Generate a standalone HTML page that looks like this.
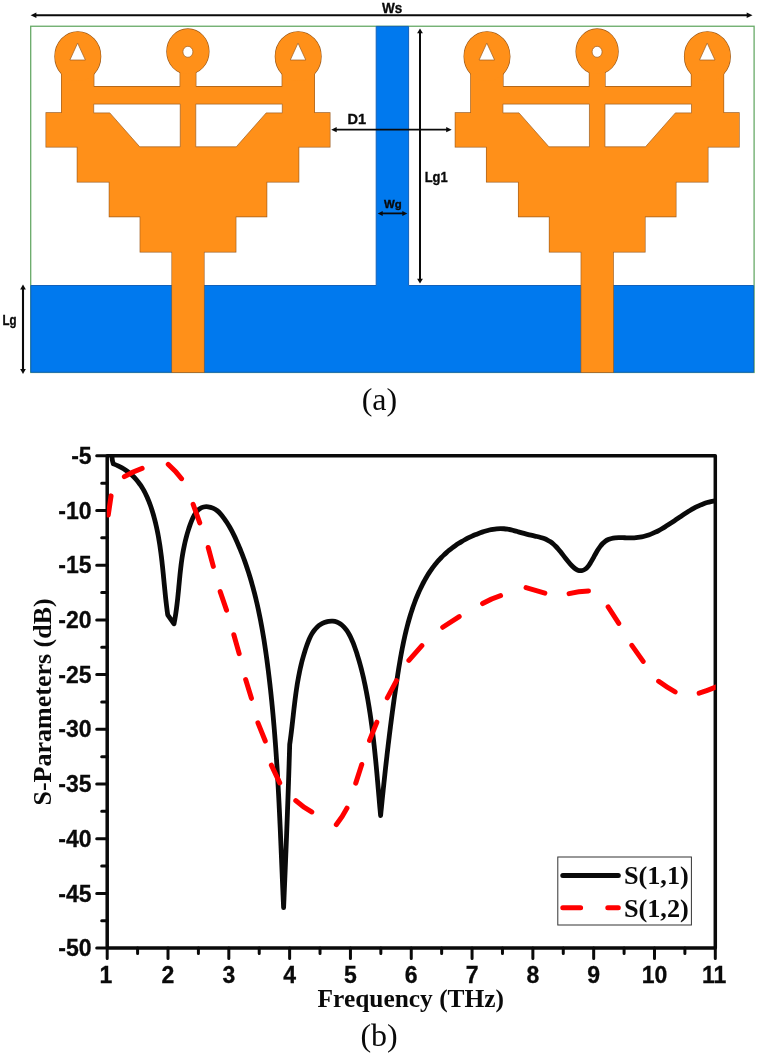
<!DOCTYPE html>
<html lang="en"><head><meta charset="utf-8"><title>Figure</title>
<style>html,body{margin:0;padding:0;background:#fff}svg{display:block}</style>
</head><body>
<svg width="762" height="1055" viewBox="0 0 762 1055">
<rect width="762" height="1055" fill="#fff"/>
<rect x="30.7" y="26.25" width="723.4" height="346.2" fill="#fff" stroke="#68AA68" stroke-width="1.3"/>
<path d="M30.9 285.5H376.2V26.4H408.6V285.5H753.6V372.2H30.9Z" fill="#0079EE" stroke="#1261BA" stroke-width="1"/>
<g fill="#FF9019" stroke="#9E5C1D" stroke-width="1.3" stroke-linejoin="miter">
<path d="M172.1 372.2 L172.1 251.8 L140.3 251.8 L140.3 216.6 L109.4 216.6 L109.4 181.8 L77.4 181.8 L77.4 146.8 L46.2 146.8 L46.2 112.9 L61.7 112.9 L61.7 62 L93.7 62 L93.7 86.7 L180.25 86.7 L180.25 60 L195.75 60 L195.75 86.7 L282.3 86.7 L282.3 62 L314.3 62 L314.3 112.9 L329.8 112.9 L329.8 146.8 L298.6 146.8 L298.6 181.8 L266.6 181.8 L266.6 216.6 L235.7 216.6 L235.7 251.8 L203.9 251.8 L203.9 372.2Z"/>
<ellipse cx="77.8" cy="56.4" rx="22.85" ry="24.6"/>
<ellipse cx="187.9" cy="51.5" rx="21" ry="22.5"/>
<ellipse cx="298.2" cy="56.4" rx="22.85" ry="24.6"/>
</g>
<g fill="#FF9019">
<path d="M172.1 372.2 L172.1 251.8 L140.3 251.8 L140.3 216.6 L109.4 216.6 L109.4 181.8 L77.4 181.8 L77.4 146.8 L46.2 146.8 L46.2 112.9 L61.7 112.9 L61.7 62 L93.7 62 L93.7 86.7 L180.25 86.7 L180.25 60 L195.75 60 L195.75 86.7 L282.3 86.7 L282.3 62 L314.3 62 L314.3 112.9 L329.8 112.9 L329.8 146.8 L298.6 146.8 L298.6 181.8 L266.6 181.8 L266.6 216.6 L235.7 216.6 L235.7 251.8 L203.9 251.8 L203.9 372.2Z"/>
<ellipse cx="77.8" cy="56.4" rx="22.85" ry="24.6"/>
<ellipse cx="187.9" cy="51.5" rx="21" ry="22.5"/>
<ellipse cx="298.2" cy="56.4" rx="22.85" ry="24.6"/>
</g>
<g fill="#fff" stroke="#9E5C1D" stroke-width="0.7">
<path d="M93.7 104.1 L180.25 104.1 L180.25 146.8 L139.7 146.8 L109.8 112.9 L93.7 112.9Z"/><path d="M282.3 104.1 L195.75 104.1 L195.75 146.8 L236.3 146.8 L266.2 112.9 L282.3 112.9Z"/>
<path d="M77.6 43.1 L85.4 60 L69.9 60Z"/>
<path d="M298 43.1 L305.8 60 L290.3 60Z"/>
<ellipse cx="187.9" cy="51.8" rx="5" ry="5.5"/>
</g>
<g fill="#FF9019" stroke="#9E5C1D" stroke-width="1.3" stroke-linejoin="miter">
<path d="M581.3 372.2 L581.3 251.8 L549.5 251.8 L549.5 216.6 L518.6 216.6 L518.6 181.8 L486.6 181.8 L486.6 146.8 L455.4 146.8 L455.4 112.9 L470.9 112.9 L470.9 62 L502.9 62 L502.9 86.7 L589.45 86.7 L589.45 60 L604.95 60 L604.95 86.7 L691.5 86.7 L691.5 62 L723.5 62 L723.5 112.9 L739 112.9 L739 146.8 L707.8 146.8 L707.8 181.8 L675.8 181.8 L675.8 216.6 L644.9 216.6 L644.9 251.8 L613.1 251.8 L613.1 372.2Z"/>
<ellipse cx="487" cy="56.4" rx="22.85" ry="24.6"/>
<ellipse cx="597.1" cy="51.5" rx="21" ry="22.5"/>
<ellipse cx="707.4" cy="56.4" rx="22.85" ry="24.6"/>
</g>
<g fill="#FF9019">
<path d="M581.3 372.2 L581.3 251.8 L549.5 251.8 L549.5 216.6 L518.6 216.6 L518.6 181.8 L486.6 181.8 L486.6 146.8 L455.4 146.8 L455.4 112.9 L470.9 112.9 L470.9 62 L502.9 62 L502.9 86.7 L589.45 86.7 L589.45 60 L604.95 60 L604.95 86.7 L691.5 86.7 L691.5 62 L723.5 62 L723.5 112.9 L739 112.9 L739 146.8 L707.8 146.8 L707.8 181.8 L675.8 181.8 L675.8 216.6 L644.9 216.6 L644.9 251.8 L613.1 251.8 L613.1 372.2Z"/>
<ellipse cx="487" cy="56.4" rx="22.85" ry="24.6"/>
<ellipse cx="597.1" cy="51.5" rx="21" ry="22.5"/>
<ellipse cx="707.4" cy="56.4" rx="22.85" ry="24.6"/>
</g>
<g fill="#fff" stroke="#9E5C1D" stroke-width="0.7">
<path d="M502.9 104.1 L589.45 104.1 L589.45 146.8 L548.9 146.8 L519 112.9 L502.9 112.9Z"/><path d="M691.5 104.1 L604.95 104.1 L604.95 146.8 L645.5 146.8 L675.4 112.9 L691.5 112.9Z"/>
<path d="M486.8 43.1 L494.6 60 L479.1 60Z"/>
<path d="M707.2 43.1 L715 60 L699.5 60Z"/>
<ellipse cx="597.1" cy="51.8" rx="5" ry="5.5"/>
</g>
<line x1="35.24" y1="15.3" x2="747.86" y2="15.3" stroke="#0a0a0a" stroke-width="2.1"/><path d="M752.5 15.3 L746.7 18.1 L746.7 12.5Z" fill="#0a0a0a"/><path d="M30.6 15.3 L36.4 18.1 L36.4 12.5Z" fill="#0a0a0a"/>
<line x1="23" y1="288.4" x2="23" y2="369.9" stroke="#0a0a0a" stroke-width="2.1"/><path d="M23 373.9 L20.15 368.9 L25.85 368.9Z" fill="#0a0a0a"/><path d="M23 284.4 L20.15 289.4 L25.85 289.4Z" fill="#0a0a0a"/>
<line x1="335.6" y1="129.7" x2="447.3" y2="129.7" stroke="#0a0a0a" stroke-width="1.8"/><path d="M451.7 129.7 L446.2 132.3 L446.2 127.1Z" fill="#0a0a0a"/><path d="M331.2 129.7 L336.7 132.3 L336.7 127.1Z" fill="#0a0a0a"/>
<line x1="420" y1="32.24" x2="420" y2="279.66" stroke="#0a0a0a" stroke-width="2"/><path d="M420 283.5 L417.1 278.7 L422.9 278.7Z" fill="#0a0a0a"/><path d="M420 28.4 L417.1 33.2 L422.9 33.2Z" fill="#0a0a0a"/>
<line x1="381.7" y1="213.4" x2="403.3" y2="213.4" stroke="#0a0a0a" stroke-width="1.8"/><path d="M407.3 213.4 L402.3 215.9 L402.3 210.9Z" fill="#0a0a0a"/><path d="M377.7 213.4 L382.7 215.9 L382.7 210.9Z" fill="#0a0a0a"/>
<g font-family="'Liberation Sans',Arial,sans-serif" font-weight="bold" fill="#0a0a0a" stroke="#0a0a0a" stroke-width="0.35">
<text x="382" y="13" font-size="14.8" textLength="20.3" lengthAdjust="spacingAndGlyphs">Ws</text>
<text x="347.4" y="124.4" font-size="14.94" textLength="18.6" lengthAdjust="spacingAndGlyphs">D1</text>
<text x="424.7" y="182.3" font-size="14.94" textLength="23" lengthAdjust="spacingAndGlyphs">Lg1</text>
<text x="383.9" y="207.5" font-size="11.03" textLength="17.7" lengthAdjust="spacingAndGlyphs">Wg</text>
<text x="2.4" y="324.9" font-size="14.66" textLength="14.1" lengthAdjust="spacingAndGlyphs">Lg</text>
</g>
<g font-family="'Liberation Serif','Times New Roman',serif" font-size="32" fill="#0a0a0a" text-anchor="middle">
<text x="379.4" y="410.3">(a)</text>
<text x="379.1" y="1046.2">(b)</text>
</g>
<g stroke="#0a0a0a" stroke-width="3.5" stroke-linecap="round" fill="none">
<path d="M107.2 455.8H715.3V948.1H107.2Z" stroke-linejoin="round"/>
<path d="M107.2 455.8H96.7M107.2 483.15H101.7M107.2 510.5H96.7M107.2 537.85H101.7M107.2 565.2H96.7M107.2 592.55H101.7M107.2 619.9H96.7M107.2 647.25H101.7M107.2 674.6H96.7M107.2 701.95H101.7M107.2 729.3H96.7M107.2 756.65H101.7M107.2 784H96.7M107.2 811.35H101.7M107.2 838.7H96.7M107.2 866.05H101.7M107.2 893.4H96.7M107.2 920.75H101.7M107.2 948.1H96.7M107.2 948.1V958.6M137.6 948.1V953.6M168.01 948.1V958.6M198.41 948.1V953.6M228.82 948.1V958.6M259.22 948.1V953.6M289.63 948.1V958.6M320.03 948.1V953.6M350.44 948.1V958.6M380.84 948.1V953.6M411.25 948.1V958.6M441.65 948.1V953.6M472.06 948.1V958.6M502.46 948.1V953.6M532.87 948.1V958.6M563.27 948.1V953.6M593.68 948.1V958.6M624.09 948.1V953.6M654.49 948.1V958.6M684.89 948.1V953.6M715.3 948.1V958.6" stroke-width="3"/>
</g>
<g font-family="'Liberation Sans',Arial,sans-serif" font-weight="bold" font-size="23" stroke="#0a0a0a" stroke-width="0.3" fill="#0a0a0a">
<text x="91.6" y="463.9" text-anchor="end">-5</text>
<text x="91.6" y="518.6" text-anchor="end">-10</text>
<text x="91.6" y="573.3" text-anchor="end">-15</text>
<text x="91.6" y="628" text-anchor="end">-20</text>
<text x="91.6" y="682.7" text-anchor="end">-25</text>
<text x="91.6" y="737.4" text-anchor="end">-30</text>
<text x="91.6" y="792.1" text-anchor="end">-35</text>
<text x="91.6" y="846.8" text-anchor="end">-40</text>
<text x="91.6" y="901.5" text-anchor="end">-45</text>
<text x="91.6" y="956.2" text-anchor="end">-50</text>
<text x="106" y="982.7" text-anchor="middle">1</text>
<text x="168.01" y="982.7" text-anchor="middle">2</text>
<text x="228.82" y="982.7" text-anchor="middle">3</text>
<text x="289.63" y="982.7" text-anchor="middle">4</text>
<text x="350.44" y="982.7" text-anchor="middle">5</text>
<text x="411.25" y="982.7" text-anchor="middle">6</text>
<text x="472.06" y="982.7" text-anchor="middle">7</text>
<text x="532.87" y="982.7" text-anchor="middle">8</text>
<text x="593.68" y="982.7" text-anchor="middle">9</text>
<text x="654.49" y="982.7" text-anchor="middle">10</text>
<text x="714.1" y="982.7" text-anchor="middle">11</text>
</g>
<clipPath id="plot"><rect x="106.8" y="455.8" width="608.9" height="492.3"/></clipPath>
<g clip-path="url(#plot)">
<path d="M112 456.5C112.05 457.08 112.08 458.78 112.3 460C112.52 461.22 113.13 463.17 113.3 463.8C114 464.1 116.15 464.97 117.53 465.62C118.91 466.27 120.26 466.96 121.57 467.7C122.88 468.44 124.16 469.22 125.39 470.05C126.63 470.87 127.83 471.74 128.99 472.65C130.14 473.56 131.26 474.51 132.33 475.5C133.4 476.49 134.43 477.52 135.41 478.59C136.39 479.66 137.32 480.77 138.21 481.92C139.1 483.06 139.95 484.24 140.76 485.44C141.57 486.65 142.34 487.89 143.07 489.15C143.81 490.41 144.5 491.7 145.17 493.01C145.83 494.32 146.46 495.66 147.06 497.01C147.67 498.36 148.24 499.73 148.79 501.11C149.33 502.49 149.85 503.88 150.35 505.28C150.85 506.69 151.32 508.1 151.78 509.52C152.23 510.94 152.67 512.36 153.09 513.79C153.51 515.21 153.91 516.64 154.29 518.08C154.68 519.51 155.04 520.95 155.4 522.39C155.75 523.83 156.08 525.27 156.41 526.71C156.73 528.16 157.04 529.61 157.33 531.06C157.63 532.51 157.91 533.96 158.18 535.42C158.45 536.88 158.71 538.33 158.95 539.79C159.2 541.25 159.43 542.72 159.66 544.18C159.89 545.65 160.1 547.11 160.31 548.58C160.52 550.05 160.72 551.52 160.91 552.99C161.1 554.46 161.29 555.93 161.47 557.4C161.64 558.87 161.81 560.35 161.98 561.82C162.15 563.3 162.31 564.77 162.47 566.25C162.62 567.72 162.78 569.2 162.93 570.68C163.08 572.15 163.22 573.63 163.37 575.11C163.52 576.59 163.66 578.06 163.8 579.54C163.95 581.02 164.09 582.49 164.23 583.97C164.38 585.44 164.52 586.92 164.66 588.39C164.81 589.87 164.96 591.34 165.11 592.82C165.26 594.29 165.41 595.76 165.56 597.23C165.72 598.7 165.88 600.17 166.05 601.64C166.21 603.11 166.38 604.57 166.56 606.04C166.73 607.5 166.92 608.96 167.11 610.42C167.3 611.89 167.6 614.07 167.7 614.8C168.75 616.3 172.95 622.3 174 623.8C174.15 622.96 174.64 620.44 174.93 618.77C175.22 617.1 175.49 615.43 175.74 613.77C175.99 612.11 176.23 610.45 176.45 608.8C176.67 607.15 176.87 605.5 177.07 603.86C177.27 602.21 177.45 600.58 177.63 598.94C177.8 597.3 177.97 595.67 178.13 594.04C178.3 592.41 178.45 590.78 178.61 589.16C178.76 587.53 178.91 585.91 179.07 584.28C179.22 582.66 179.37 581.04 179.53 579.42C179.69 577.8 179.85 576.19 180.01 574.57C180.18 572.95 180.35 571.33 180.53 569.72C180.72 568.1 180.91 566.48 181.11 564.86C181.31 563.24 181.53 561.63 181.76 560.01C181.99 558.39 182.23 556.76 182.5 555.14C182.76 553.52 183.04 551.89 183.35 550.27C183.65 548.64 183.97 547.01 184.32 545.38C184.67 543.75 185.04 542.11 185.44 540.47C185.84 538.83 186.26 537.19 186.71 535.55C187.17 533.9 187.65 532.25 188.17 530.6C188.69 528.94 189.23 527.28 189.82 525.62C190.41 523.96 191.02 522.26 191.7 520.65C192.37 519.04 193.09 517.41 193.89 515.95C194.69 514.49 195.55 513.07 196.52 511.87C197.49 510.68 198.53 509.58 199.71 508.77C200.89 507.95 202.17 507.31 203.57 506.98C204.98 506.65 206.59 506.61 208.15 506.8C209.71 507 211.43 507.48 212.95 508.14C214.48 508.8 215.97 509.73 217.29 510.76C218.62 511.79 219.78 513.05 220.9 514.31C222.03 515.57 223.04 516.97 224.03 518.34C225.03 519.71 225.97 521.11 226.88 522.52C227.79 523.94 228.66 525.37 229.5 526.81C230.34 528.26 231.14 529.72 231.92 531.19C232.7 532.66 233.44 534.14 234.17 535.64C234.89 537.13 235.59 538.63 236.28 540.14C236.96 541.65 237.62 543.17 238.27 544.69C238.93 546.21 239.56 547.74 240.19 549.27C240.81 550.8 241.42 552.34 242.02 553.88C242.62 555.42 243.2 556.96 243.77 558.51C244.34 560.06 244.9 561.61 245.45 563.17C246 564.73 246.53 566.29 247.06 567.85C247.58 569.42 248.09 570.98 248.59 572.56C249.09 574.13 249.58 575.7 250.06 577.28C250.54 578.86 251 580.44 251.46 582.03C251.91 583.62 252.36 585.2 252.8 586.8C253.23 588.39 253.66 589.98 254.07 591.58C254.49 593.18 254.89 594.78 255.29 596.39C255.69 597.99 256.07 599.6 256.45 601.2C256.83 602.81 257.2 604.43 257.56 606.04C257.92 607.65 258.27 609.27 258.62 610.89C258.96 612.51 259.3 614.13 259.62 615.75C259.95 617.37 260.27 619 260.59 620.63C260.9 622.25 261.21 623.88 261.5 625.51C261.8 627.14 262.09 628.77 262.38 630.41C262.67 632.04 262.94 633.68 263.22 635.31C263.49 636.95 263.76 638.59 264.02 640.22C264.28 641.86 264.53 643.5 264.78 645.14C265.03 646.79 265.28 648.43 265.52 650.07C265.76 651.71 265.99 653.36 266.22 655C266.45 656.64 266.68 658.29 266.9 659.93C267.12 661.58 267.34 663.22 267.55 664.87C267.76 666.52 267.97 668.16 268.18 669.81C268.39 671.45 268.59 673.1 268.79 674.75C268.99 676.39 269.19 678.04 269.38 679.69C269.57 681.33 269.76 682.98 269.95 684.63C270.13 686.27 270.32 687.92 270.5 689.57C270.68 691.21 270.85 692.86 271.03 694.51C271.2 696.16 271.37 697.81 271.54 699.45C271.71 701.1 271.87 702.75 272.04 704.4C272.2 706.05 272.36 707.69 272.51 709.34C272.67 710.99 272.83 712.64 272.98 714.29C273.13 715.94 273.28 717.59 273.42 719.23C273.57 720.88 273.71 722.53 273.85 724.18C273.99 725.83 274.13 727.48 274.27 729.13C274.4 730.78 274.54 732.43 274.67 734.08C274.8 735.73 274.93 737.38 275.05 739.03C275.18 740.68 275.3 742.33 275.43 743.98C275.55 745.63 275.67 747.28 275.79 748.93C275.9 750.58 276.02 752.23 276.13 753.88C276.25 755.54 276.36 757.19 276.47 758.84C276.58 760.49 276.69 762.14 276.79 763.79C276.9 765.44 277 767.09 277.11 768.75C277.21 770.4 277.31 772.05 277.41 773.7C277.51 775.35 277.6 777 277.7 778.66C277.8 780.31 277.89 781.96 277.98 783.61C278.08 785.27 278.17 786.92 278.26 788.57C278.35 790.22 278.44 791.88 278.53 793.53C278.61 795.18 278.7 796.83 278.79 798.49C278.87 800.14 278.95 801.79 279.04 803.45C279.12 805.1 279.2 806.75 279.28 808.4C279.36 810.06 279.44 811.71 279.52 813.36C279.6 815.02 279.68 816.67 279.76 818.33C279.83 819.98 279.91 821.63 279.98 823.29C280.06 824.94 280.13 826.59 280.21 828.25C280.28 829.9 280.36 831.56 280.43 833.21C280.5 834.87 280.57 836.52 280.64 838.17C280.72 839.83 280.79 841.48 280.86 843.14C280.93 844.79 281 846.45 281.07 848.1C281.14 849.76 281.21 851.41 281.28 853.07C281.35 854.72 281.42 856.38 281.49 858.03C281.55 859.69 281.62 861.34 281.69 863C281.76 864.65 281.83 866.31 281.9 867.96C281.97 869.62 282.04 871.27 282.11 872.93C282.17 874.58 282.24 876.24 282.31 877.89C282.38 879.55 282.45 881.2 282.52 882.86C282.59 884.52 282.66 886.17 282.73 887.83C282.8 889.48 282.87 891.14 282.94 892.8C283.01 894.45 283.09 896.11 283.16 897.76C283.23 899.42 283.3 901.08 283.38 902.73C283.45 904.39 283.56 906.87 283.6 907.7C283.67 906.1 283.87 901.3 284.01 898.1C284.14 894.89 284.28 891.69 284.41 888.49C284.55 885.29 284.68 882.09 284.81 878.89C284.94 875.69 285.08 872.48 285.21 869.28C285.34 866.08 285.47 862.88 285.6 859.68C285.73 856.48 285.86 853.27 285.99 850.07C286.12 846.87 286.24 843.67 286.37 840.47C286.5 837.27 286.62 834.06 286.74 830.86C286.87 827.66 286.99 824.46 287.11 821.26C287.23 818.05 287.35 814.85 287.47 811.65C287.59 808.45 287.71 805.25 287.82 802.04C287.94 798.84 288.05 795.64 288.16 792.44C288.27 789.24 288.38 786.03 288.49 782.83C288.6 779.63 288.71 776.43 288.81 773.22C288.92 770.02 289.02 766.82 289.12 763.62C289.22 760.41 289.32 757.21 289.42 754.01C289.51 750.81 289.65 746 289.7 744.4C289.81 743.64 290.13 741.37 290.33 739.86C290.53 738.36 290.73 736.85 290.92 735.35C291.11 733.85 291.29 732.35 291.47 730.85C291.65 729.36 291.83 727.87 292 726.37C292.17 724.88 292.34 723.4 292.51 721.91C292.67 720.43 292.84 718.94 293.01 717.46C293.17 715.98 293.34 714.51 293.5 713.03C293.67 711.55 293.84 710.08 294.01 708.6C294.18 707.13 294.35 705.66 294.52 704.19C294.7 702.72 294.88 701.25 295.06 699.78C295.25 698.32 295.44 696.85 295.63 695.38C295.83 693.92 296.03 692.45 296.24 690.99C296.45 689.52 296.67 688.06 296.9 686.6C297.12 685.13 297.36 683.67 297.61 682.21C297.86 680.75 298.11 679.28 298.38 677.82C298.65 676.36 298.93 674.89 299.23 673.43C299.52 671.97 299.83 670.5 300.15 669.04C300.47 667.57 300.81 666.11 301.16 664.64C301.52 663.17 301.88 661.71 302.27 660.24C302.66 658.77 303.06 657.3 303.48 655.83C303.9 654.36 304.34 652.88 304.8 651.41C305.26 649.93 305.74 648.45 306.25 646.98C306.75 645.5 307.27 644.01 307.83 642.56C308.39 641.11 308.98 639.65 309.62 638.25C310.27 636.85 310.95 635.47 311.7 634.17C312.46 632.87 313.26 631.61 314.15 630.45C315.04 629.28 315.99 628.18 317.05 627.19C318.1 626.21 319.24 625.3 320.46 624.53C321.68 623.76 323.01 623.09 324.36 622.57C325.7 622.06 327.12 621.66 328.52 621.43C329.92 621.21 331.36 621.12 332.74 621.23C334.12 621.33 335.51 621.59 336.8 622.05C338.1 622.52 339.34 623.19 340.51 624C341.68 624.8 342.78 625.8 343.81 626.88C344.85 627.96 345.81 629.19 346.71 630.45C347.61 631.72 348.45 633.09 349.22 634.46C349.99 635.82 350.68 637.24 351.33 638.65C351.98 640.07 352.57 641.5 353.14 642.94C353.7 644.37 354.22 645.82 354.74 647.27C355.25 648.71 355.75 650.15 356.23 651.6C356.71 653.04 357.17 654.48 357.62 655.92C358.07 657.36 358.51 658.81 358.93 660.25C359.35 661.69 359.76 663.13 360.16 664.57C360.55 666.02 360.93 667.46 361.31 668.9C361.68 670.35 362.04 671.79 362.39 673.23C362.74 674.68 363.08 676.13 363.41 677.57C363.74 679.02 364.06 680.47 364.37 681.92C364.69 683.37 364.99 684.82 365.29 686.28C365.58 687.73 365.87 689.19 366.15 690.65C366.44 692.11 366.71 693.57 366.98 695.03C367.25 696.5 367.52 697.96 367.77 699.43C368.03 700.9 368.28 702.37 368.53 703.84C368.77 705.31 369.01 706.78 369.25 708.26C369.48 709.73 369.71 711.21 369.93 712.69C370.16 714.17 370.38 715.65 370.59 717.13C370.8 718.61 371.01 720.1 371.22 721.58C371.42 723.07 371.62 724.55 371.82 726.04C372.01 727.53 372.2 729.01 372.39 730.5C372.58 731.99 372.76 733.48 372.94 734.98C373.12 736.47 373.29 737.96 373.47 739.45C373.64 740.95 373.81 742.44 373.97 743.93C374.14 745.43 374.3 746.92 374.46 748.42C374.62 749.92 374.77 751.41 374.93 752.91C375.08 754.41 375.23 755.9 375.38 757.4C375.53 758.9 375.68 760.39 375.82 761.89C375.96 763.39 376.11 764.89 376.25 766.38C376.39 767.88 376.53 769.38 376.66 770.88C376.8 772.37 376.94 773.87 377.07 775.37C377.2 776.87 377.34 778.36 377.47 779.86C377.6 781.35 377.73 782.85 377.86 784.34C377.99 785.84 378.12 787.33 378.25 788.83C378.38 790.32 378.51 791.81 378.64 793.31C378.77 794.8 378.9 796.29 379.03 797.78C379.16 799.27 379.28 800.76 379.41 802.25C379.54 803.73 379.67 805.22 379.8 806.7C379.94 808.19 380.07 809.67 380.2 811.16C380.33 812.64 380.53 814.86 380.6 815.6C380.66 814.98 380.85 813.12 380.97 811.88C381.09 810.65 381.22 809.41 381.34 808.17C381.47 806.93 381.59 805.69 381.72 804.45C381.84 803.22 381.97 801.98 382.09 800.74C382.22 799.5 382.35 798.26 382.47 797.03C382.6 795.79 382.73 794.55 382.86 793.31C382.99 792.08 383.12 790.84 383.24 789.6C383.37 788.36 383.5 787.13 383.63 785.89C383.77 784.65 383.9 783.41 384.03 782.18C384.16 780.94 384.29 779.7 384.43 778.46C384.56 777.23 384.69 775.99 384.83 774.75C384.96 773.52 385.1 772.28 385.23 771.04C385.37 769.81 385.5 768.57 385.64 767.33C385.78 766.1 385.92 764.86 386.05 763.63C386.19 762.39 386.33 761.15 386.47 759.92C386.61 758.68 386.75 757.45 386.9 756.21C387.04 754.97 387.18 753.74 387.32 752.5C387.47 751.27 387.61 750.03 387.76 748.8C387.9 747.56 388.05 746.33 388.19 745.09C388.34 743.86 388.49 742.62 388.64 741.39C388.79 740.15 388.94 738.92 389.09 737.68C389.24 736.45 389.39 735.21 389.54 733.98C389.69 732.74 389.85 731.51 390 730.28C390.16 729.04 390.31 727.81 390.47 726.57C390.62 725.34 390.78 724.11 390.94 722.87C391.1 721.64 391.26 720.41 391.42 719.17C391.58 717.94 391.74 716.71 391.9 715.47C392.07 714.24 392.23 713.01 392.4 711.77C392.56 710.54 392.73 709.31 392.89 708.08C393.06 706.84 393.23 705.61 393.4 704.38C393.57 703.15 393.74 701.92 393.91 700.68C394.09 699.45 394.26 698.22 394.43 696.99C394.61 695.76 394.78 694.53 394.96 693.3C395.14 692.06 395.32 690.83 395.5 689.6C395.68 688.37 395.86 687.14 396.04 685.91C396.22 684.68 396.41 683.45 396.59 682.22C396.78 680.99 396.96 679.76 397.15 678.53C397.34 677.3 397.53 676.07 397.72 674.84C397.91 673.61 398.1 672.38 398.3 671.15C398.49 669.92 398.69 668.7 398.89 667.47C399.09 666.24 399.29 665.01 399.49 663.79C399.7 662.56 399.9 661.33 400.11 660.11C400.33 658.88 400.54 657.66 400.76 656.43C400.98 655.21 401.2 653.98 401.42 652.76C401.65 651.54 401.88 650.32 402.12 649.09C402.35 647.87 402.59 646.65 402.84 645.44C403.08 644.22 403.33 643 403.59 641.78C403.85 640.57 404.11 639.35 404.38 638.14C404.64 636.92 404.92 635.71 405.2 634.5C405.48 633.29 405.77 632.08 406.06 630.87C406.36 629.66 406.66 628.46 406.97 627.25C407.28 626.05 407.59 624.85 407.92 623.64C408.24 622.44 408.57 621.24 408.92 620.05C409.26 618.85 409.61 617.65 409.96 616.46C410.32 615.27 410.69 614.07 411.06 612.89C411.44 611.7 411.83 610.51 412.22 609.32C412.62 608.14 413.02 606.95 413.44 605.77C413.85 604.59 414.28 603.42 414.71 602.24C415.15 601.07 415.6 599.9 416.06 598.74C416.52 597.57 416.99 596.41 417.47 595.26C417.95 594.1 418.45 592.95 418.95 591.81C419.46 590.67 419.98 589.53 420.51 588.41C421.05 587.28 421.59 586.16 422.16 585.05C422.72 583.94 423.29 582.83 423.88 581.74C424.47 580.64 425.07 579.56 425.69 578.48C426.31 577.41 426.94 576.34 427.59 575.29C428.24 574.24 428.91 573.19 429.59 572.16C430.27 571.14 430.97 570.12 431.68 569.11C432.4 568.11 433.13 567.11 433.88 566.14C434.63 565.16 435.39 564.19 436.18 563.24C436.96 562.3 437.77 561.36 438.59 560.44C439.41 559.52 440.25 558.62 441.11 557.73C441.97 556.85 442.84 555.97 443.74 555.12C444.63 554.27 445.54 553.43 446.47 552.61C447.4 551.79 448.35 550.98 449.31 550.2C450.27 549.41 451.25 548.64 452.24 547.89C453.23 547.14 454.24 546.4 455.26 545.69C456.28 544.97 457.32 544.27 458.37 543.59C459.42 542.91 460.48 542.25 461.56 541.61C462.63 540.97 463.72 540.34 464.82 539.74C465.92 539.13 467.04 538.55 468.16 537.98C469.28 537.41 470.42 536.86 471.56 536.34C472.71 535.81 473.86 535.3 475.03 534.81C476.19 534.32 477.36 533.85 478.55 533.41C479.73 532.96 480.92 532.53 482.12 532.12C483.32 531.72 484.53 531.34 485.73 530.99C486.94 530.64 488.16 530.31 489.38 530.03C490.59 529.75 491.82 529.5 493.04 529.29C494.25 529.09 495.48 528.92 496.69 528.81C497.91 528.7 499.13 528.63 500.34 528.62C501.55 528.61 502.76 528.66 503.96 528.76C505.16 528.86 506.35 529.02 507.55 529.21C508.74 529.41 509.93 529.66 511.13 529.93C512.32 530.19 513.51 530.5 514.71 530.82C515.9 531.13 517.1 531.48 518.31 531.82C519.51 532.16 520.72 532.52 521.94 532.86C523.16 533.21 524.39 533.56 525.63 533.88C526.87 534.2 528.12 534.5 529.38 534.79C530.64 535.08 531.91 535.35 533.17 535.63C534.43 535.91 535.69 536.18 536.93 536.48C538.17 536.78 539.41 537.08 540.61 537.43C541.81 537.78 543 538.15 544.14 538.58C545.28 539.02 546.39 539.48 547.45 540.03C548.52 540.57 549.53 541.17 550.51 541.84C551.48 542.5 552.4 543.24 553.3 544.02C554.21 544.79 555.06 545.63 555.91 546.5C556.75 547.36 557.57 548.28 558.37 549.22C559.18 550.16 559.96 551.13 560.75 552.12C561.54 553.11 562.32 554.12 563.11 555.14C563.89 556.16 564.68 557.19 565.49 558.22C566.29 559.25 567.11 560.28 567.95 561.3C568.79 562.31 569.66 563.34 570.55 564.31C571.45 565.28 572.37 566.27 573.32 567.1C574.27 567.93 575.24 568.73 576.23 569.31C577.22 569.89 578.23 570.37 579.24 570.58C580.26 570.78 581.32 570.77 582.32 570.53C583.33 570.29 584.36 569.77 585.28 569.14C586.19 568.51 587.03 567.64 587.82 566.72C588.61 565.8 589.31 564.7 590.01 563.61C590.72 562.52 591.38 561.34 592.05 560.17C592.72 559 593.37 557.78 594.04 556.59C594.7 555.39 595.36 554.18 596.03 553C596.71 551.83 597.39 550.65 598.1 549.54C598.81 548.43 599.53 547.34 600.29 546.34C601.06 545.33 601.84 544.37 602.68 543.51C603.52 542.66 604.39 541.87 605.33 541.2C606.26 540.54 607.25 539.98 608.29 539.53C609.33 539.07 610.43 538.73 611.56 538.46C612.69 538.19 613.87 538.02 615.07 537.89C616.28 537.75 617.52 537.7 618.78 537.67C620.03 537.63 621.32 537.66 622.6 537.68C623.89 537.7 625.2 537.76 626.5 537.79C627.8 537.83 629.11 537.88 630.4 537.88C631.7 537.88 632.99 537.87 634.25 537.8C635.52 537.74 636.77 537.62 638 537.47C639.23 537.31 640.44 537.11 641.64 536.87C642.84 536.62 644.02 536.34 645.19 536.01C646.36 535.69 647.51 535.33 648.66 534.94C649.8 534.54 650.93 534.11 652.05 533.65C653.17 533.19 654.28 532.69 655.38 532.17C656.48 531.65 657.57 531.1 658.66 530.52C659.74 529.95 660.81 529.35 661.88 528.73C662.95 528.12 664.02 527.48 665.08 526.83C666.14 526.18 667.19 525.51 668.24 524.83C669.29 524.15 670.34 523.46 671.39 522.76C672.43 522.06 673.48 521.35 674.52 520.65C675.57 519.94 676.61 519.22 677.66 518.51C678.7 517.8 679.75 517.09 680.8 516.39C681.84 515.68 682.9 514.98 683.95 514.29C685.01 513.6 686.07 512.92 687.13 512.25C688.2 511.58 689.27 510.93 690.34 510.29C691.42 509.66 692.51 509.03 693.6 508.44C694.69 507.84 695.79 507.26 696.91 506.71C698.02 506.16 699.14 505.63 700.27 505.14C701.4 504.65 702.55 504.18 703.7 503.75C704.86 503.32 706.03 502.92 707.21 502.56C708.4 502.2 709.6 501.88 710.81 501.6C712.02 501.33 713.88 501.02 714.5 500.9" fill="none" stroke="#0a0a0a" stroke-width="4.8" stroke-linejoin="round" stroke-linecap="butt"/>
<path d="M108.23 515.09L111.08 495.88M124.37 476.64Q132.83 471.59 142.13 468.36M168.24 464.31Q175.63 470.82 181.56 478.69M193.14 504.38L199.76 522.82M208.2 547.49L213.3 566.41M220.18 591.63L226.52 610.17M233.83 634.77L239.17 653.63M245.66 679.58L251.44 698.32M257.94 722.86L265.26 741.04M271.37 765.14L279.73 782.86M295.79 800.7Q303.11 807.33 311.81 812M336.33 824.58Q342.49 816.89 346.97 808.12M355.75 783.13L361.75 764.47M369.54 740.39L376.86 722.21M387.3 697.91L396.5 680.59M408.91 660.4L421.89 645.7M442.7 627.25L459.2 616.65M482.62 603.53Q491.2 598.68 500.58 595.67M526.04 587.67L544.86 593.13M569.09 593.6Q578.67 591.31 588.51 591M608.12 606.88L618.78 623.32M631.83 645.4L643.17 661.4M658.67 681.28Q666.57 687.1 675.13 691.92M699.16 693.15Q708.91 690.19 718.25 686.12" fill="none" stroke="#FF0000" stroke-width="5" stroke-linecap="round"/>
</g>
<rect x="557.8" y="857" width="133.6" height="68" fill="#fff" stroke="#333" stroke-width="1"/>
<path d="M562.8 875.5H618.3" stroke="#0a0a0a" stroke-width="5" stroke-linecap="round"/>
<path d="M562.8 907.8H580.6M607.8 907.8H618.3" stroke="#FF0000" stroke-width="5" stroke-linecap="round"/>
<g font-family="'Liberation Serif','Times New Roman',serif" font-weight="bold" fill="#0a0a0a">
<text x="623.9" y="884.1" font-size="26" textLength="64.9" lengthAdjust="spacingAndGlyphs">S(1,1)</text>
<text x="623.9" y="916.5" font-size="26" textLength="64.9" lengthAdjust="spacingAndGlyphs">S(1,2)</text>
<text x="410.8" y="1006.6" font-size="25.4" text-anchor="middle">Frequency (THz)</text>
<text transform="translate(50.8 701.9) rotate(-90)" font-size="26" text-anchor="middle">S-Parameters (dB)</text>
</g>
</svg>
</body></html>
